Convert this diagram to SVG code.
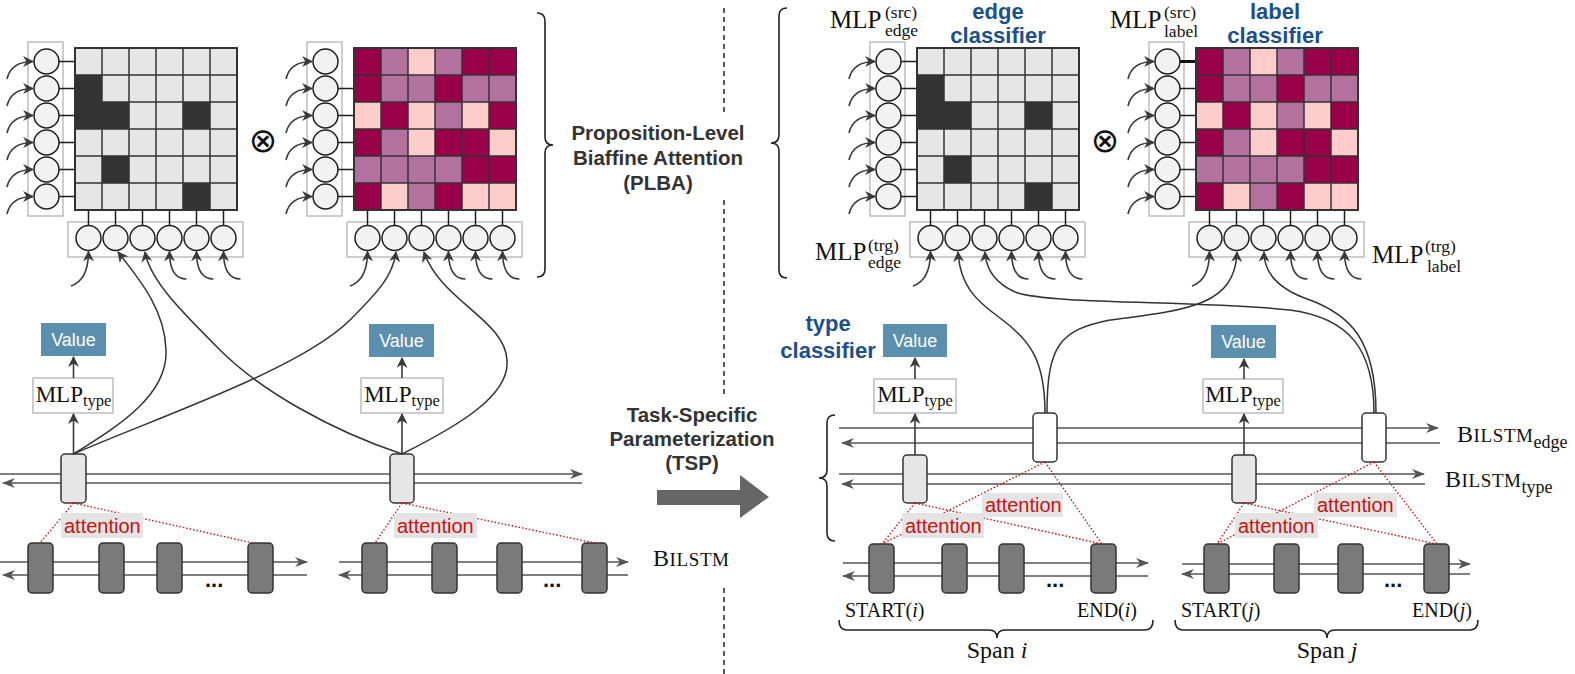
<svg xmlns="http://www.w3.org/2000/svg" width="1575" height="674" viewBox="0 0 1575 674">
<style>
.bx{fill:none;stroke:#bdbdbd;stroke-width:1.5}
.nd{fill:#f2f2f2;stroke:#1e1e1e;stroke-width:1.5}
.cn{stroke:#1e1e1e;stroke-width:1.5;fill:none}
.ar{fill:none;stroke:#3a3a3a;stroke-width:1.6;marker-end:url(#ah)}
.cv{fill:none;stroke:#333;stroke-width:1.5;marker-end:url(#ah)}
.ln{fill:none;stroke:#555;stroke-width:1.5}
.lr{marker-end:url(#hl)}
.att{fill:none;stroke:#cc1010;stroke-width:1.4;stroke-dasharray:1.5 2}
.gl{fill:none;stroke:#333;stroke-width:1.5}
.lc{fill:#e6e6e6;stroke:#333;stroke-width:1.5}
.dc{fill:#7a7a7a;stroke:#333;stroke-width:1.5}
.ec{fill:#fff;stroke:#333;stroke-width:1.5}
.val{fill:#5a8fae}
.vt{font-family:"Liberation Sans",Arial,sans-serif;font-size:18px;fill:#fff;text-anchor:middle}
.mb{fill:#fff;stroke:#bdbdbd;stroke-width:1.5}
.sr{font-family:"Liberation Serif","Times New Roman",serif;fill:#111}
.bl{font-family:"Liberation Sans",Arial,sans-serif;font-weight:bold;font-size:22px;fill:#1b4f8e;text-anchor:middle}
.gb{font-family:"Liberation Sans",Arial,sans-serif;font-weight:bold;font-size:20.5px;fill:#333;text-anchor:middle}
.at{font-family:"Liberation Sans",Arial,sans-serif;font-size:20px;fill:#cc1010}
.abg{fill:#e4e4e4}
.dots{font-family:"Liberation Sans",Arial,sans-serif;font-weight:bold;font-size:22px;fill:#111}
.brace{fill:none;stroke:#222;stroke-width:1.6}
.ot{font-family:"DejaVu Sans",sans-serif;font-size:34px;fill:#111;text-anchor:middle}
</style>
<defs>
<marker id="ah" viewBox="0 0 10 10" refX="9" refY="5" markerWidth="11" markerHeight="11" markerUnits="userSpaceOnUse" orient="auto"><path d="M0,0L10,5L0,10L3,5z" fill="#3a3a3a"/></marker>
<marker id="hl" viewBox="0 0 13 10" refX="12" refY="5" markerWidth="13" markerHeight="10" markerUnits="userSpaceOnUse" orient="auto"><path d="M0,0L13,5L0,10L4,5z" fill="#555"/></marker>
<g id="edgeMat">
<rect x="0" y="0" width="162" height="162" fill="#e6e6e6"/>
<path fill="#333" d="M0,27h27v54h-27zM27,54h27v27h-27zM108,54h27v27h-27zM27,108h27v27h-27zM108,135h27v27h-27z"/>
<path class="gl" d="M27,0V162M54,0V162M81,0V162M108,0V162M135,0V162M0,27H162M0,54H162M0,81H162M0,108H162M0,135H162"/>
<rect x="0" y="0" width="162" height="162" fill="none" stroke="#333" stroke-width="2"/>
</g>
<g id="labelMat">
<rect x="0" y="0" width="162" height="162" fill="#990049"/>
<path fill="#b3719f" d="M27,0h27v27h-27zM81,0h27v27h-27zM27,27h54v27h-54zM108,27h54v27h-54zM81,54h27v27h-27zM27,81h27v27h-27zM0,108h108v27h-108zM54,135h27v27h-27z"/>
<path fill="#ffcccc" d="M54,0h27v27h-27zM0,54h27v27h-27zM54,54h27v27h-27zM108,54h27v27h-27zM54,81h27v27h-27zM135,81h27v27h-27zM27,135h27v27h-27zM108,135h54v27h-54z"/>
<path class="gl" d="M27,0V162M54,0V162M81,0V162M108,0V162M135,0V162M0,27H162M0,54H162M0,81H162M0,108H162M0,135H162"/>
<rect x="0" y="0" width="162" height="162" fill="none" stroke="#333" stroke-width="2"/>
</g>
<g id="fr">
<rect class="bx" x="-47" y="-6" width="35" height="174"/>
<rect class="bx" x="-7" y="174" width="175" height="35"/>
<path class="cn" d="M-16,40.5H0M-16,67.5H0M-16,94.5H0M-16,121.5H0M-16,148.5H0M13.5,162V177.5M40.5,162V177.5M67.5,162V177.5M94.5,162V177.5M121.5,162V177.5M148.5,162V177.5"/>
<circle class="nd" cx="-28.5" cy="13.5" r="12.5"/>
<circle class="nd" cx="-28.5" cy="40.5" r="12.5"/>
<circle class="nd" cx="-28.5" cy="67.5" r="12.5"/>
<circle class="nd" cx="-28.5" cy="94.5" r="12.5"/>
<circle class="nd" cx="-28.5" cy="121.5" r="12.5"/>
<circle class="nd" cx="-28.5" cy="148.5" r="12.5"/>
<circle class="nd" cx="13.5" cy="190" r="12.5"/>
<circle class="nd" cx="40.5" cy="190" r="12.5"/>
<circle class="nd" cx="67.5" cy="190" r="12.5"/>
<circle class="nd" cx="94.5" cy="190" r="12.5"/>
<circle class="nd" cx="121.5" cy="190" r="12.5"/>
<circle class="nd" cx="148.5" cy="190" r="12.5"/>
<path class="ar" d="M-68,31Q-64,13.5 -42,13.5"/>
<path class="ar" d="M-68,58Q-64,40.5 -42,40.5"/>
<path class="ar" d="M-68,85Q-64,67.5 -42,67.5"/>
<path class="ar" d="M-68,112Q-64,94.5 -42,94.5"/>
<path class="ar" d="M-68,139Q-64,121.5 -42,121.5"/>
<path class="ar" d="M-68,166Q-64,148.5 -42,148.5"/>
<path class="ar" d="M-4,238Q13.5,232 13.5,203.5"/>
<path class="ar" d="M111.5,231Q94.5,231 94.5,203.5"/>
<path class="ar" d="M138.5,231Q121.5,231 121.5,203.5"/>
<path class="ar" d="M165.5,231Q148.5,231 148.5,203.5"/>
</g>
</defs>
<rect width="1575" height="674" fill="#fff"/>

<!-- top matrices -->
<g id="edge-matrix-left" transform="translate(75,48)"><use href="#fr"/><path class="cn" d="M-16,13.5H0"/><use href="#edgeMat"/></g>
<text class="ot" x="263" y="152">⊗</text>
<g id="label-matrix-left" transform="translate(354,48)"><use href="#fr"/><use href="#labelMat"/></g>
<g id="edge-matrix-right" transform="translate(917,48)"><use href="#fr"/><path class="cn" d="M-16,13.5H0"/><use href="#edgeMat"/></g>
<text class="ot" x="1105" y="152">⊗</text>
<g id="label-matrix-right" transform="translate(1196,48)"><use href="#fr"/><path d="M-16,13.5H0" stroke="#111" stroke-width="3"/><use href="#labelMat"/></g>

<!-- braces and middle -->
<g id="braces">
<path class="brace" d="M537,13Q545,13 545,21L545,137Q545,145 553,145Q545,145 545,153L545,269Q545,277 537,277"/>
<path class="brace" d="M787,8Q779,8 779,16L779,135Q779,143 771,143Q779,143 779,151L779,270Q779,278 787,278"/>
<path class="brace" d="M835,415Q827,415 827,423L827,470Q827,478 819,478Q827,478 827,486L827,533Q827,541 835,541"/>
<path class="brace" d="M839,620Q839,630 847,630L989,630Q997,630 997,638Q997,630 1005,630L1145,630Q1153,630 1153,620"/>
<path class="brace" d="M1175,620Q1175,630 1183,630L1319,630Q1327,630 1327,638Q1327,630 1335,630L1470,630Q1478,630 1478,620"/>
</g>
<g id="divider" stroke="#222" stroke-width="1.5" stroke-dasharray="5 4">
<path d="M724,8V115M724,200V395M724,588V674"/>
</g>
<g id="plba-label">
<text class="gb" x="658" y="140">Proposition-Level</text>
<text class="gb" x="658" y="165">Biaffine Attention</text>
<text class="gb" x="658" y="190">(PLBA)</text>
</g>
<g id="tsp-label">
<text class="gb" x="692" y="422">Task-Specific</text>
<text class="gb" x="692" y="446">Parameterization</text>
<text class="gb" x="692" y="470">(TSP)</text>
<polygon points="657,490 740,490 740,475 769,497 740,518 740,505 657,505" fill="#666"/>
</g>

<!-- MLP labels, classifier labels -->
<g id="mlp-labels">
<text class="sr" x="830" y="28" font-size="25">MLP</text>
<text class="sr" x="885" y="18" font-size="17.5">(src)</text>
<text class="sr" x="885" y="36" font-size="17.5">edge</text>
<text class="sr" x="815" y="260" font-size="25">MLP</text>
<text class="sr" x="868" y="251" font-size="17.5">(trg)</text>
<text class="sr" x="868" y="268" font-size="17.5">edge</text>
<text class="sr" x="1110" y="28" font-size="25">MLP</text>
<text class="sr" x="1164" y="18" font-size="17.5">(src)</text>
<text class="sr" x="1164" y="37" font-size="17.5">label</text>
<text class="sr" x="1372" y="263" font-size="25">MLP</text>
<text class="sr" x="1425" y="252" font-size="17.5">(trg)</text>
<text class="sr" x="1427" y="272" font-size="17.5">label</text>
</g>
<g id="classifier-labels">
<text class="bl" x="998" y="19">edge</text>
<text class="bl" x="998" y="43">classifier</text>
<text class="bl" x="1275" y="19">label</text>
<text class="bl" x="1275" y="43">classifier</text>
<text class="bl" x="828" y="331">type</text>
<text class="bl" x="828" y="358">classifier</text>
</g>

<!-- BiLSTM lines -->
<g id="lstm-lines" class="ln">
<path d="M0,474H582" class="lr"/><path d="M582,483H3" class="lr"/>
<path d="M0,562H307" class="lr"/><path d="M307,575H3" class="lr"/>
<path d="M339,562H628" class="lr"/><path d="M628,575H339" class="lr"/>
<path d="M839,428H1438" class="lr"/><path d="M1440,443H842" class="lr"/>
<path d="M839,474H1424" class="lr"/><path d="M1425,484H842" class="lr"/>
<path d="M843,563H1148" class="lr"/><path d="M1148,576H843" class="lr"/>
<path d="M1182,564H1470" class="lr"/><path d="M1470,574H1182" class="lr"/>
</g>
<g id="lstm-labels">
<text class="sr" x="653" y="566" font-size="24" letter-spacing="0.6">B<tspan font-size="19">ILSTM</tspan></text>
<text class="sr" x="1457" y="442" font-size="24" letter-spacing="0.6">B<tspan font-size="19">ILSTM</tspan><tspan font-size="18" dy="6" letter-spacing="0">edge</tspan></text>
<text class="sr" x="1445" y="487" font-size="24" letter-spacing="0.6">B<tspan font-size="19">ILSTM</tspan><tspan font-size="18" dy="6" letter-spacing="0">type</tspan></text>
</g>

<!-- token cells -->
<g id="tokens-left-1">
<rect class="dc" x="28" y="543" width="25" height="50" rx="4"/>
<rect class="dc" x="99" y="543" width="25" height="50" rx="4"/>
<rect class="dc" x="157" y="543" width="25" height="50" rx="4"/>
<rect class="dc" x="248" y="543" width="25" height="50" rx="4"/>
<text class="dots" x="205" y="587">...</text>
</g>
<g id="tokens-left-2">
<rect class="dc" x="362" y="543" width="25" height="50" rx="4"/>
<rect class="dc" x="432" y="543" width="25" height="50" rx="4"/>
<rect class="dc" x="497" y="543" width="25" height="50" rx="4"/>
<rect class="dc" x="582" y="543" width="25" height="50" rx="4"/>
<text class="dots" x="543" y="587">...</text>
</g>
<g id="tokens-span-i">
<rect class="dc" x="869" y="544" width="25" height="49" rx="4"/>
<rect class="dc" x="942" y="544" width="25" height="49" rx="4"/>
<rect class="dc" x="999" y="544" width="25" height="49" rx="4"/>
<rect class="dc" x="1091" y="544" width="25" height="49" rx="4"/>
<text class="dots" x="1046" y="587">...</text>
<text class="sr" x="845" y="617" font-size="20">START(<tspan font-style="italic">i</tspan>)</text>
<text class="sr" x="1137" y="617" font-size="20" text-anchor="end">END(<tspan font-style="italic">i</tspan>)</text>
<text class="sr" x="997" y="658" font-size="24" text-anchor="middle">Span <tspan font-style="italic">i</tspan></text>
</g>
<g id="tokens-span-j">
<rect class="dc" x="1204" y="544" width="25" height="49" rx="4"/>
<rect class="dc" x="1274" y="544" width="25" height="49" rx="4"/>
<rect class="dc" x="1338" y="544" width="25" height="49" rx="4"/>
<rect class="dc" x="1424" y="544" width="25" height="49" rx="4"/>
<text class="dots" x="1384" y="587">...</text>
<text class="sr" x="1181" y="617" font-size="20">START(<tspan font-style="italic">j</tspan>)</text>
<text class="sr" x="1472" y="617" font-size="20" text-anchor="end">END(<tspan font-style="italic">j</tspan>)</text>
<text class="sr" x="1327" y="658" font-size="24" text-anchor="middle">Span <tspan font-style="italic">j</tspan></text>
</g>

<!-- hidden cells -->
<g id="cell-left-1"><rect class="lc" x="61" y="454" width="25" height="49" rx="4"/></g>
<g id="cell-left-2"><rect class="lc" x="390" y="454" width="24" height="49" rx="4"/></g>
<g id="cell-type-i"><rect class="lc" x="903" y="455" width="24" height="48" rx="4"/></g>
<g id="cell-edge-i"><rect class="ec" x="1033" y="413" width="24" height="49" rx="4"/></g>
<g id="cell-type-j"><rect class="lc" x="1232" y="455" width="24" height="48" rx="4"/></g>
<g id="cell-edge-j"><rect class="ec" x="1362" y="413" width="24" height="49" rx="4"/></g>

<!-- MLP and Value nodes -->
<g id="mlp-left-1"><rect class="mb" x="33" y="378" width="80" height="35"/><text class="sr" x="73.5" y="402" font-size="23" text-anchor="middle">MLP<tspan font-size="16.5" dy="4">type</tspan></text></g>
<g id="value-left-1"><rect class="val" x="41" y="323" width="65" height="33"/><text class="vt" x="73.5" y="346">Value</text></g>
<g id="mlp-left-2"><rect class="mb" x="361" y="378" width="82" height="35"/><text class="sr" x="402" y="402" font-size="23" text-anchor="middle">MLP<tspan font-size="16.5" dy="4">type</tspan></text></g>
<g id="value-left-2"><rect class="val" x="369" y="324" width="65" height="33"/><text class="vt" x="401.5" y="347">Value</text></g>
<g id="mlp-right-1"><rect class="mb" x="874" y="379" width="82" height="34"/><text class="sr" x="915" y="402" font-size="23" text-anchor="middle">MLP<tspan font-size="16.5" dy="4">type</tspan></text></g>
<g id="value-right-1"><rect class="val" x="883" y="324" width="64" height="33"/><text class="vt" x="915" y="347">Value</text></g>
<g id="mlp-right-2"><rect class="mb" x="1203" y="379" width="80" height="34"/><text class="sr" x="1243" y="402" font-size="23" text-anchor="middle">MLP<tspan font-size="16.5" dy="4">type</tspan></text></g>
<g id="value-right-2"><rect class="val" x="1211" y="325" width="65" height="33"/><text class="vt" x="1243.5" y="348">Value</text></g>

<!-- connectors -->
<g id="connectors">
<path class="ar" d="M73.5,454V414"/><path class="ar" d="M73.5,378V357"/>
<path class="ar" d="M402,454V414"/><path class="ar" d="M402,378V358"/>
<path class="ar" d="M915,455V414"/><path class="ar" d="M915,379V358"/>
<path class="ar" d="M1244,455V414"/><path class="ar" d="M1244,379V359"/>
<path class="cv" d="M73.5,454C120,425 168,395 166,350C165,310 140,280 118,252"/>
<path class="cv" d="M73.5,454C150,420 300,370 350,320C380,290 393,275 396,252"/>
<path class="cv" d="M402,454C330,430 260,390 220,350C180,310 150,280 145,252"/>
<path class="cv" d="M402,454C460,425 510,395 507,360C505,320 440,300 424,252"/>
<path class="cv" d="M1045,413C1045,360 1030,340 1000,318C975,300 960,285 958,252"/>
<path class="cv" d="M1047,413C1047,345 1060,330 1110,320C1190,310 1235,305 1237,252"/>
<path class="cv" d="M1374,413C1374,350 1350,318 1290,310C1200,300 1050,305 1015,292C995,283 986,270 985,252"/>
<path class="cv" d="M1376,413C1376,340 1350,315 1310,300C1280,290 1264,275 1264,252"/>
<path class="att" d="M73.5,503L40,543M73.5,503L253,543"/>
<path class="att" d="M402,503L375,543M402,503L595,543"/>
<path class="att" d="M915,503L882,544M915,503L1102,544M1045,462L882,544M1045,462L1102,544"/>
<path class="att" d="M1244,503L1217,544M1244,503L1437,544M1374,462L1217,544M1374,462L1437,544"/>
</g>
<g id="attention-labels">
<rect class="abg" x="61" y="513" width="82" height="25"/><text class="at" x="64" y="533">attention</text>
<rect class="abg" x="394" y="513" width="83" height="25"/><text class="at" x="397" y="533">attention</text>
<rect class="abg" x="982" y="493" width="81" height="24"/><text class="at" x="985" y="512">attention</text>
<rect class="abg" x="902" y="513" width="82" height="25"/><text class="at" x="905" y="533">attention</text>
<rect class="abg" x="1314" y="493" width="83" height="24"/><text class="at" x="1317" y="512">attention</text>
<rect class="abg" x="1235" y="513" width="83" height="25"/><text class="at" x="1238" y="533">attention</text>
</g>
</svg>
